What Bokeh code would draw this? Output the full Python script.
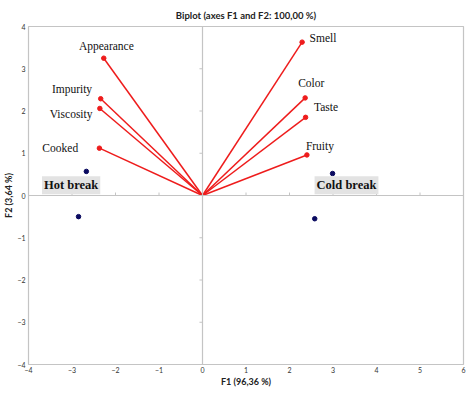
from bokeh.plotting import figure
from bokeh.models import ColumnDataSource, Range1d, FixedTicker, Label, Title, Span
from bokeh.core.properties import value
from bokeh.embed import file_html
from bokeh.resources import INLINE

# ---- data ----
variables = ["Appearance", "Impurity", "Viscosity", "Cooked", "Smell", "Color", "Taste", "Fruity"]
var_f1 = [-2.27, -2.34, -2.36, -2.37, 2.29, 2.36, 2.37, 2.40]
var_f2 = [3.25, 2.29, 2.06, 1.12, 3.63, 2.31, 1.85, 0.96]
label_f1 = [-2.21, -3.00, -3.02, -3.27, 2.77, 2.50, 2.84, 2.70]
label_f2 = [3.55, 2.52, 1.93, 1.13, 3.72, 2.66, 2.09, 1.18]

obs_f1 = [-2.67, -2.85, 2.99, 2.58]
obs_f2 = [0.57, -0.50, 0.52, -0.55]

groups = ["Hot break", "Cold break"]
group_f1 = [-3.02, 3.31]
group_f2 = [0.24, 0.24]

x_ticks = [-4, -3, -2, -1, 0, 1, 2, 3, 4, 5, 6]
y_ticks = [-4, -3, -2, -1, 0, 1, 2, 3, 4]

title_text = "Biplot (axes F1 and F2: 100,00 %)"
x_title = "F1 (96,36 %)"
y_title = "F2 (3,64 %)"

# ---- style ----
TICK_FONT = "Lato"
GRAY = "#c4c4c4"
TICK_LEN_X = 0.07   # data units (about 3 px)
TICK_LEN_Y = 0.07

p = figure(width=466, height=389, output_backend="svg", toolbar_location=None,
           x_range=Range1d(-4, 6), y_range=Range1d(-4, 4),
           min_border_left=27, min_border_right=3, min_border_top=26, min_border_bottom=23)
p.add_layout(Title(text=title_text, text_font=TICK_FONT, text_font_size="9.5px",
                   text_font_style="bold", align="center",
                   standoff=12, offset=-5, text_color="#222222"), "above")
p.grid.visible = False
p.outline_line_color = GRAY
p.outline_line_width = 1.2

for ax in [p.xaxis[0], p.yaxis[0]]:
    ax.axis_line_color = None
    ax.major_tick_line_color = None
    ax.minor_tick_line_color = None
    ax.major_tick_out = 0
    ax.major_tick_in = 0
    ax.minor_tick_out = 0
    ax.minor_tick_in = 0
    ax.major_label_text_font = TICK_FONT
    ax.major_label_text_font_size = "7px"
    ax.major_label_text_color = "#333333"
    ax.axis_label_text_font = TICK_FONT
    ax.axis_label_text_font_size = "9px"
    ax.axis_label_text_font_style = "bold"
    ax.axis_label_text_color = "#222222"

p.xaxis[0].ticker = FixedTicker(ticks=x_ticks)
p.yaxis[0].ticker = FixedTicker(ticks=y_ticks)
p.xaxis[0].axis_label = x_title
p.yaxis[0].axis_label = y_title
p.xaxis[0].major_label_standoff = 2
p.xaxis[0].axis_label_standoff = 0
p.yaxis[0].major_label_standoff = 3
p.yaxis[0].axis_label_standoff = 0

# zero lines with ticks
p.add_layout(Span(location=0, dimension="width", line_color=GRAY, line_width=1.2))
p.add_layout(Span(location=0, dimension="height", line_color=GRAY, line_width=1.2))
p.segment(x0=x_ticks, y0=[0] * len(x_ticks), x1=x_ticks, y1=[TICK_LEN_Y] * len(x_ticks),
          line_color=GRAY, line_width=1)
p.segment(x0=[0] * len(y_ticks), y0=y_ticks, x1=[-TICK_LEN_X] * len(y_ticks), y1=y_ticks,
          line_color=GRAY, line_width=1)

# variable vectors
vsrc = ColumnDataSource(dict(x0=[0] * len(var_f1), y0=[0] * len(var_f2),
                             x1=var_f1, y1=var_f2, lx=label_f1, ly=label_f2, name=variables))
p.segment(x0="x0", y0="y0", x1="x1", y1="y1", source=vsrc, line_color="#ee1c1c", line_width=1.5)
p.scatter(x="x1", y="y1", source=vsrc, size=4.5, color="#ee1c1c")
p.text(x="lx", y="ly", text="name", source=vsrc, text_font=value("Liberation Serif"),
       text_font_size="11.5px", text_align="center", text_baseline="middle", text_color="#111111")

# observations
p.scatter(x=obs_f1, y=obs_f2, size=4.5, color="#0a0a60")

# group labels
for g, gx, gy in zip(groups, group_f1, group_f2):
    p.add_layout(Label(x=gx, y=gy, text=g, text_font="Liberation Serif", text_font_size="12.5px",
                       text_font_style="bold", text_align="center", text_baseline="middle",
                       background_fill_color="#e3e3e3", padding=2, text_color="#111111"))

open("out.html", "w").write(file_html(p, INLINE))
